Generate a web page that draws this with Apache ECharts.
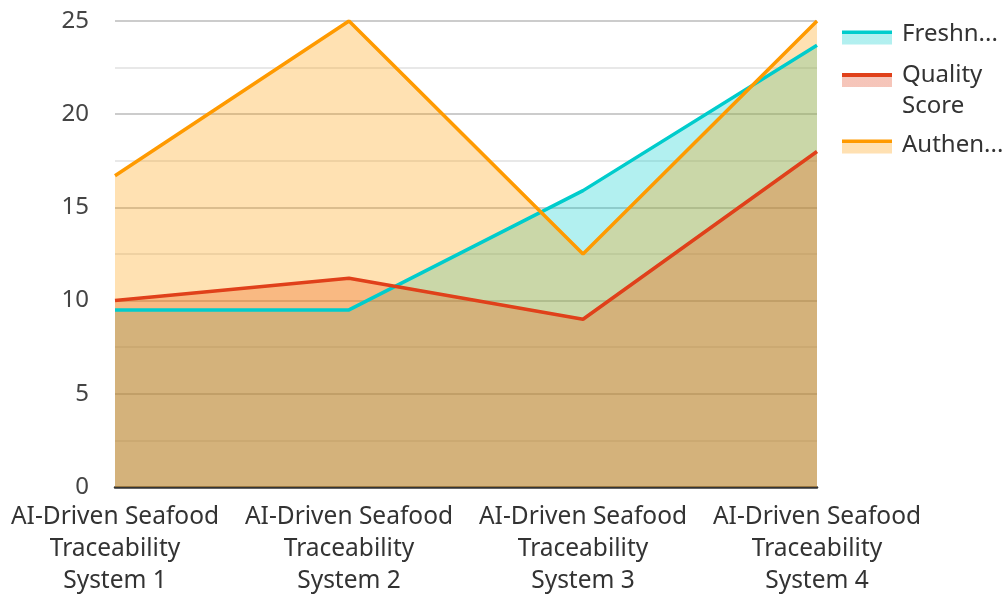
<!DOCTYPE html>
<html><head><meta charset="utf-8">
<script src="https://cdn.jsdelivr.net/npm/echarts@6/dist/echarts.min.js"></script>
<style>html,body{margin:0;padding:0;background:#fff}#c{width:1007px;height:594px}</style>
</head><body><div id="c"></div>
<script>
const categories = ['AI-Driven Seafood\nTraceability\nSystem 1','AI-Driven Seafood\nTraceability\nSystem 2','AI-Driven Seafood\nTraceability\nSystem 3','AI-Driven Seafood\nTraceability\nSystem 4'];
const freshness = [9.5, 9.5, 15.9, 23.7];
const quality = [10, 11.2, 9, 18];
const authenticity = [16.7, 25, 12.5, 25];
const seriesNames = ['Freshness', 'Quality Score', 'Authenticity'];
const colors = ['#00cccc', '#e0401a', '#ff9a00'];
const lightColors = ['rgba(0,204,204,0.3)', 'rgba(224,64,26,0.3)', 'rgba(255,154,0,0.3)'];
const yTicks = {min: 0, max: 25, interval: 5};

const chart = echarts.init(document.getElementById('c'));
const font = 'Noto Sans';
function mk(name, data, color) {
  return {name, type: 'line', data, showSymbol: false, symbol: 'none',
    lineStyle: {width: 3.5, color}, itemStyle: {color},
    areaStyle: {color, opacity: 0.3}};
}
function legendItem(i) {
  return {name: seriesNames[i], icon: 'rect',
    itemStyle: {color: new echarts.graphic.LinearGradient(0, 0, 0, 1, [
      {offset: 0, color: colors[i]}, {offset: 0.28, color: colors[i]},
      {offset: 0.28, color: lightColors[i]}, {offset: 1, color: lightColors[i]}])},
    lineStyle: {width: 0, opacity: 0}};
}
function legendText(n) {
  if (n === 'Quality Score') return '{s21| }\n{a|Quality}\n{a|Score}';
  if (n === 'Authenticity') return '{s38| }\n{a|' + n + '}\n{s40| }';
  return '{s2| }\n{a|' + n + '}\n{s8| }';
}
chart.setOption({
  animation: false,
  textStyle: {fontFamily: font},
  grid: {left: 115, right: 190, top: 21, bottom: 107, outerBoundsMode: 'none', containLabel: false},
  legend: {orient: 'vertical', left: 837, top: 12, itemWidth: 50, itemHeight: 14, itemGap: -9,
    data: [legendItem(0), legendItem(1), legendItem(2)],
    formatter: legendText,
    textStyle: {fontFamily: font, fontSize: 24, color: '#333', width: 111, overflow: 'truncate',
      rich: {
        a: {fontFamily: font, fontSize: 24, color: '#333', lineHeight: 31, padding: [0, 0, 0, 5]},
        s2: {fontSize: 2, lineHeight: 2},
        s8: {fontSize: 4, lineHeight: 8},
        s21: {fontSize: 4, lineHeight: 21},
        s38: {fontSize: 4, lineHeight: 38},
        s40: {fontSize: 4, lineHeight: 40}
      }}},
  xAxis: {type: 'category', data: categories, boundaryGap: false,
    axisLine: {lineStyle: {color: '#333', width: 2.5}}, axisTick: {show: false},
    axisLabel: {fontFamily: font, fontSize: 24.5, color: '#333', lineHeight: 32, margin: 14, interval: 0}},
  yAxis: {type: 'value', min: yTicks.min, max: yTicks.max, interval: yTicks.interval,
    axisLabel: {fontFamily: font, fontSize: 24, color: '#444', margin: 26},
    splitLine: {lineStyle: {color: '#ccc', width: 2}},
    minorTick: {show: false, splitNumber: 2},
    minorSplitLine: {show: true, lineStyle: {color: '#e8e8e8', width: 2}}},
  series: [mk(seriesNames[0], freshness, colors[0]), mk(seriesNames[1], quality, colors[1]), mk(seriesNames[2], authenticity, colors[2])]
});
</script></body></html>
